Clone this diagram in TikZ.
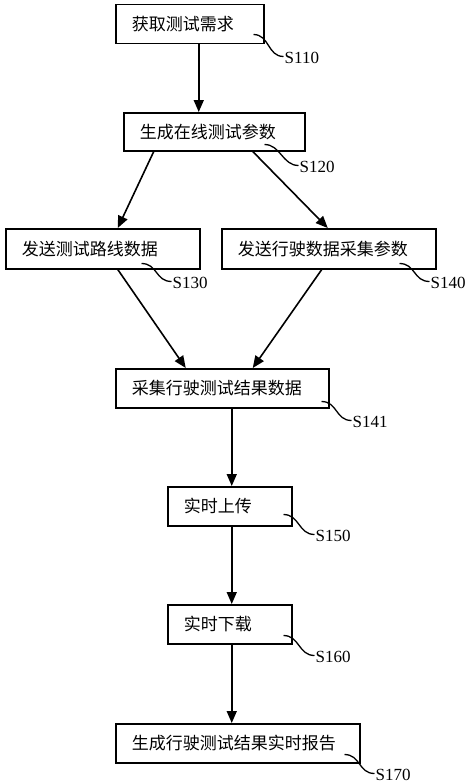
\documentclass[tikz,border=0pt]{standalone}
\usepackage{fontspec}
\newfontfamily\cjkfont{Noto Sans CJK SC}
\newfontfamily\labfont{Liberation Serif}
\usetikzlibrary{arrows.meta}
\tikzset{
 box/.style={draw, line width=1.5pt, anchor=north west, inner xsep=16pt, inner ysep=0pt, align=left, font=\cjkfont\fontsize{17}{21}\selectfont},
 arr/.style={line width=1.6pt, -{Triangle[length=12pt,width=10pt]}},
 lead/.style={line width=1.3pt},
 lab/.style={anchor=west, inner sep=1pt, yshift=-1.5pt, font=\labfont\fontsize{17}{20}\selectfont}
}
\begin{document}
\begin{tikzpicture}[x=1pt,y=-1pt]
\useasboundingbox (0,0) rectangle (474,784);
\node[box, minimum width=148pt, minimum height=39pt, text width=116pt] (b1) at (115,4) {获取测试需求};
\node[box, minimum width=181pt, minimum height=38pt, text width=149pt] (b2) at (123,112) {生成在线测试参数};
\node[box, minimum width=194pt, minimum height=40pt, text width=162pt] (b3) at (5,228) {发送测试路线数据};
\node[box, minimum width=214pt, minimum height=40pt, text width=182pt] (b4) at (221,228) {发送行驶数据采集参数};
\node[box, minimum width=213pt, minimum height=39pt, text width=181pt] (b5) at (115,368) {采集行驶测试结果数据};
\node[box, minimum width=124pt, minimum height=39pt, text width=92pt] (b6) at (167,486) {实时上传};
\node[box, minimum width=124pt, minimum height=39pt, text width=92pt] (b7) at (167,604) {实时下载};
\node[box, minimum width=244pt, minimum height=39pt, text width=212pt] (b8) at (115,723) {生成行驶测试结果实时报告};

\draw[arr] ([xshift=9pt]b1.south) -- ([xshift=-15.5pt]b2.north);
\draw[arr] ([xshift=-60.5pt]b2.south) -- ([xshift=15pt]b3.north);
\draw[arr] ([xshift=38.5pt]b2.south) -- ([xshift=-1pt]b4.north);
\draw[arr] ([xshift=15pt]b3.south) -- ([xshift=-36.5pt]b5.north);
\draw[arr] ([xshift=-7pt]b4.south) -- ([xshift=30.5pt]b5.north);
\draw[arr] ([xshift=9.5pt]b5.south) -- ([xshift=2pt]b6.north);
\draw[arr] ([xshift=2pt]b6.south) -- ([xshift=2pt]b7.north);
\draw[arr] ([xshift=2pt]b7.south) -- ([xshift=-6pt]b8.north);

\coordinate (s1) at ([xshift=-11pt,yshift=10pt]b1.south east);
\coordinate (e1) at ([xshift=19pt,yshift=-12pt]b1.south east);
\coordinate (s2) at ([xshift=-41pt,yshift=7pt]b2.south east);
\coordinate (e2) at ([xshift=-7pt,yshift=-14pt]b2.south east);
\coordinate (s3) at ([xshift=-59pt,yshift=6pt]b3.south east);
\coordinate (e3) at ([xshift=-29pt,yshift=-12pt]b3.south east);
\coordinate (s4) at ([xshift=-37pt,yshift=6pt]b4.south east);
\coordinate (e4) at ([xshift=-7pt,yshift=-12pt]b4.south east);
\coordinate (s5) at ([xshift=-8pt,yshift=7pt]b5.south east);
\coordinate (e5) at ([xshift=22pt,yshift=-12pt]b5.south east);
\coordinate (s6) at ([xshift=-9pt,yshift=12pt]b6.south east);
\coordinate (e6) at ([xshift=22pt,yshift=-8pt]b6.south east);
\coordinate (s7) at ([xshift=-9pt,yshift=9pt]b7.south east);
\coordinate (e7) at ([xshift=22pt,yshift=-11pt]b7.south east);
\coordinate (s8) at ([xshift=-16pt,yshift=9pt]b8.south east);
\coordinate (e8) at ([xshift=14pt,yshift=-10pt]b8.south east);

\foreach \i/\t in {1/S110,2/S120,3/S130,4/S140,5/S141,6/S150,7/S160,8/S170}{
  \draw[lead] (s\i) .. controls +(16pt,0pt) and +(-16pt,0pt) .. (e\i);
  \node[lab] (l\i) at (e\i) {\t};
}
\end{tikzpicture}
\end{document}
